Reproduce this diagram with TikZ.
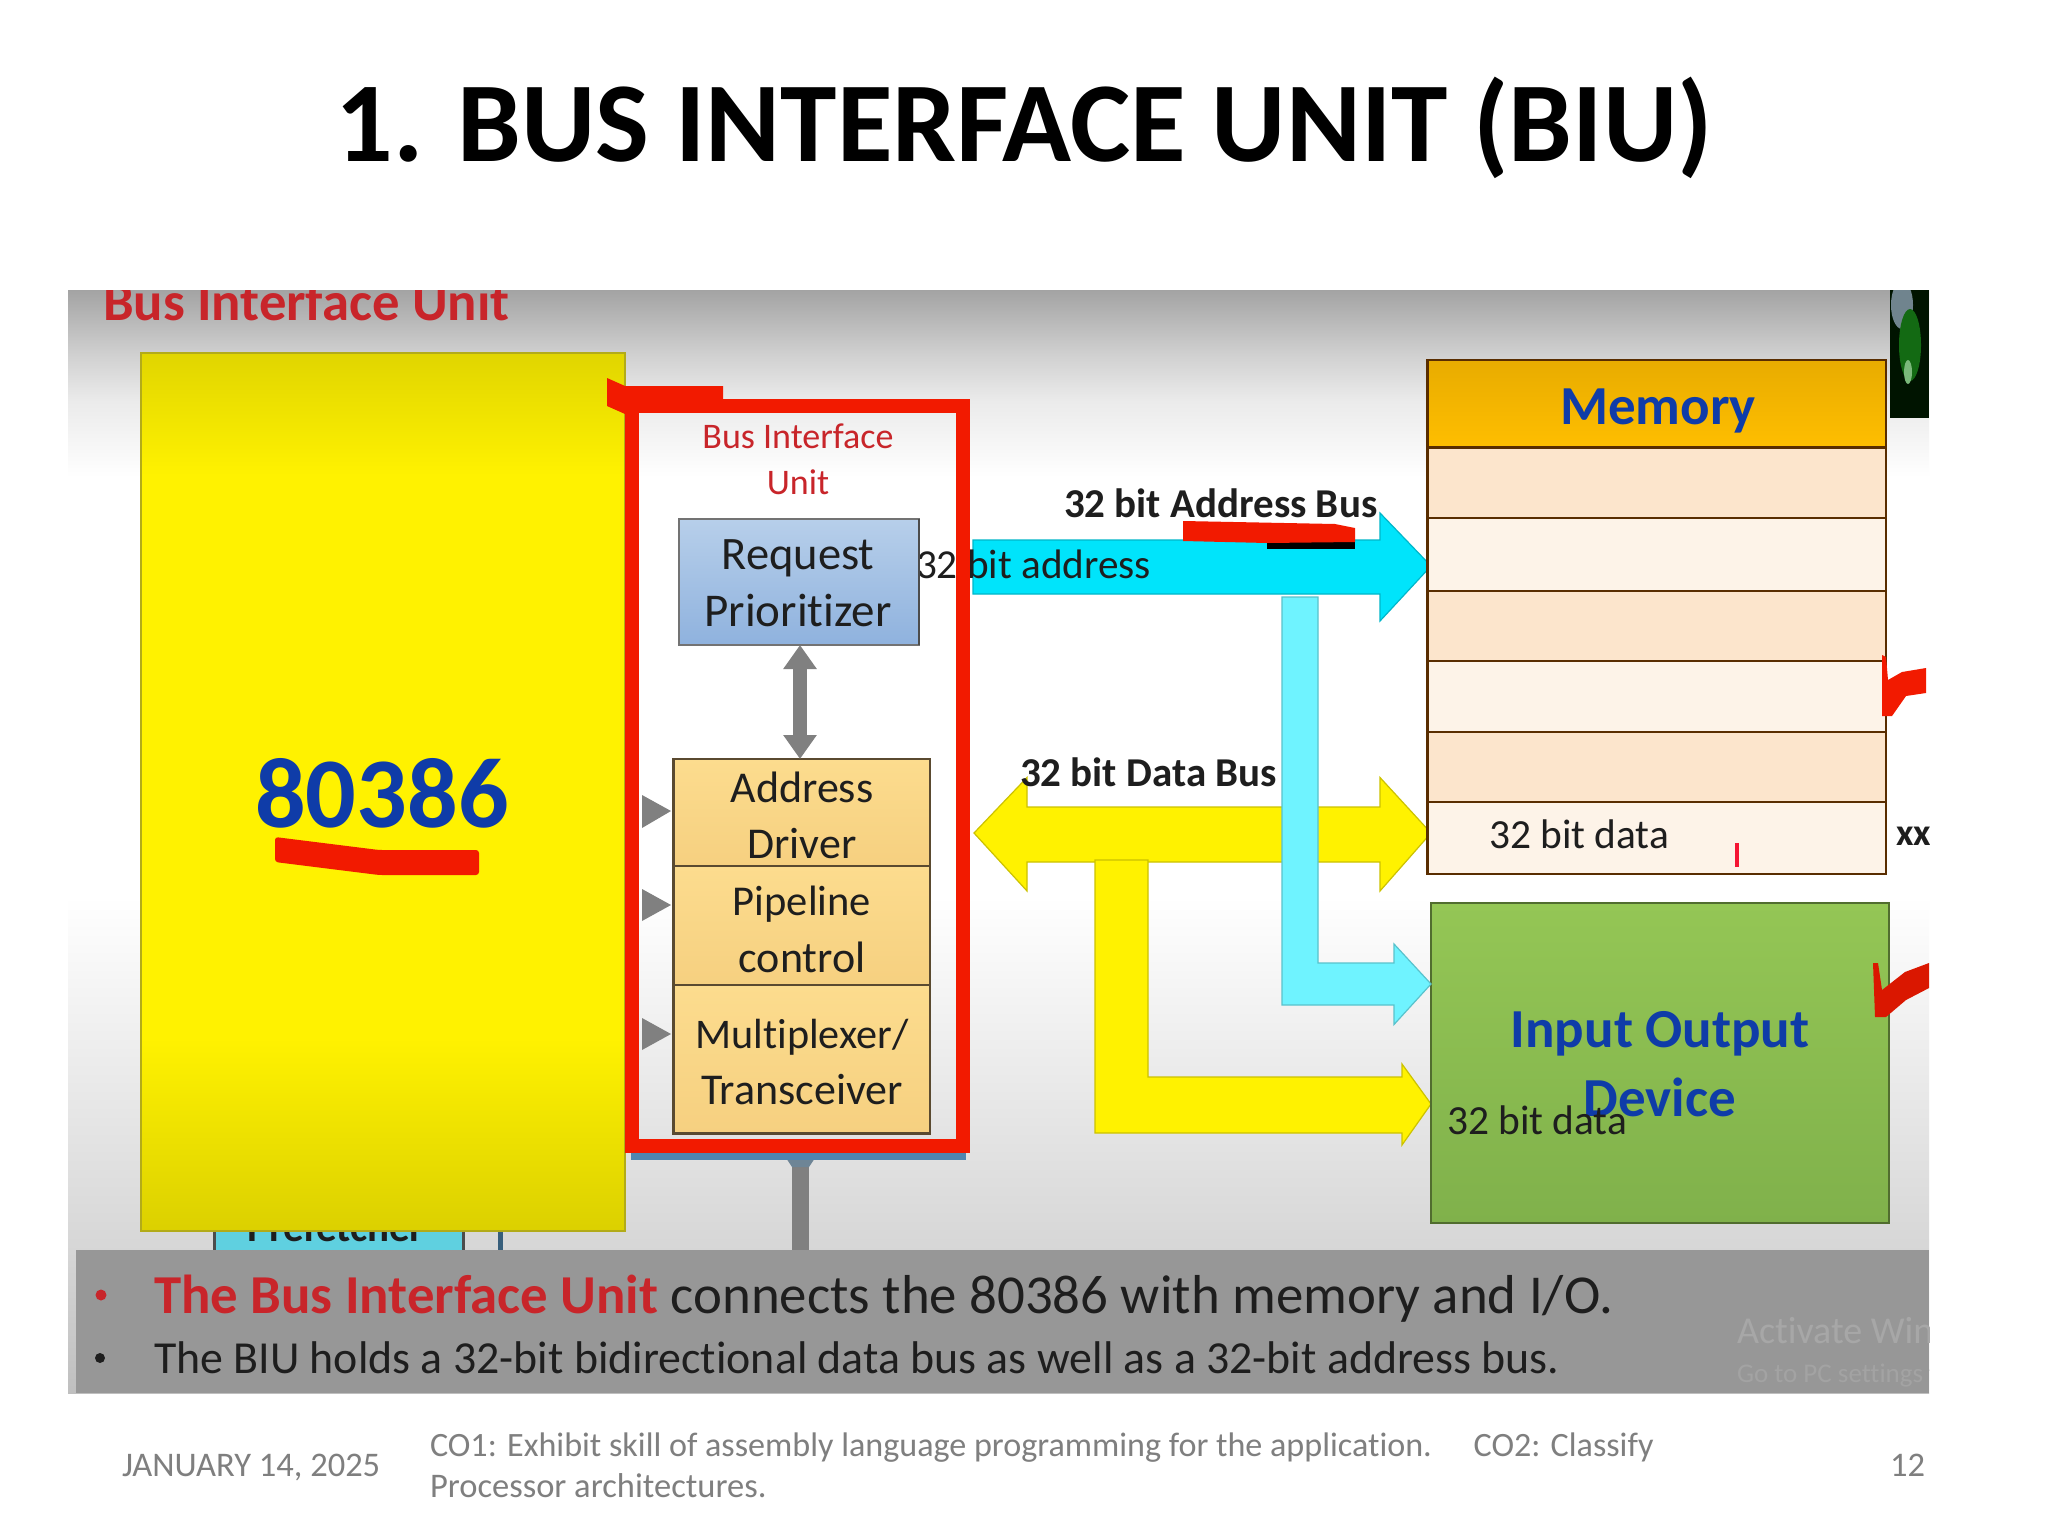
\documentclass[tikz,border=0pt]{standalone}
\usepackage{fontspec}
\setmainfont{Carlito}[Ligatures={TeX,NoCommon}]
\usetikzlibrary{arrows.meta}
\definecolor{foot}{HTML}{7F7F7F}
\definecolor{redm}{HTML}{F21A00}
\definecolor{redt}{HTML}{C8252A}
\definecolor{bluet}{HTML}{0F3CA8}
\definecolor{ink}{HTML}{1E1E1E}
\definecolor{band}{HTML}{979797}
\definecolor{cyana}{HTML}{00E4FB}
\definecolor{cyanb}{HTML}{6FF3FF}
\definecolor{yel}{HTML}{FFF200}
\definecolor{orantop}{HTML}{FCDC8E}
\definecolor{oranbot}{HTML}{F6D080}
\definecolor{edge}{HTML}{5A4A30}
\definecolor{rowa}{HTML}{FCE5CC}
\definecolor{rowb}{HTML}{FDF3E8}
\definecolor{memtop}{HTML}{E8AC00}
\definecolor{membot}{HTML}{FFBE00}
\definecolor{iotop}{HTML}{94C655}
\definecolor{iobot}{HTML}{80B14B}
\definecolor{rptop}{HTML}{B7CFEA}
\definecolor{rpbot}{HTML}{8FB2DE}
\definecolor{teal}{HTML}{5FD0E0}
\definecolor{steel}{HTML}{4F86B0}
% a path is fitted to the 25bp..75bp part of a shading; 75bp is its visual top
\pgfdeclareverticalshading{bgshade}{100bp}{
 color(0bp)=(black!25);color(25bp)=(black!25);color(31.5bp)=(black!16);color(47.5bp)=(white);
 color(66.5bp)=(white);color(70bp)=(black!8);color(72bp)=(black!18);color(75bp)=(black!36);color(100bp)=(black!36)}
\pgfdeclareverticalshading{yelshade}{100bp}{
 color(0bp)=(yel!86!black);color(25bp)=(yel!86!black);color(36bp)=(yel);color(68bp)=(yel);
 color(75bp)=(yel!88!black);color(100bp)=(yel!88!black)}
\newcommand{\fs}[1]{\fontsize{#1pt}{#1pt}\selectfont}
\tikzset{
 x=1pt,y=-1pt,
 txt/.style={inner sep=0pt,outer sep=0pt,anchor=base},
 txtw/.style={inner sep=0pt,outer sep=0pt,anchor=base west},
 block/.style={draw=#1!80!black,line width=1.2pt,fill=#1},
 memrow/.style={fill=#1,draw=black!65!orange,line width=2.5pt},
 drvbox/.style={top color=orantop,bottom color=oranbot,draw=edge,line width=2.5pt},
 greyarrow/.style={draw=none,fill=black!50},
}
\begin{document}
\begin{tikzpicture}
\useasboundingbox (0,0) rectangle (2048,1536);
\fill[white] (0,0) rectangle (2048,1536);
\node[txt,font=\bfseries\fs{113.8}] (title) at (1024,161) {1. BUS INTERFACE UNIT (BIU)};
\begin{scope}
\clip (68,290) rectangle (1929,1393);
\shade[shading=bgshade] (68,290) rectangle (1929,1393);
% clipped header
\node[txtw,font=\bfseries\fs{54.7},text=redt] (head) at (103,320) {Bus Interface Unit};
% corner picture
\begin{scope}
\clip (1890,290) rectangle (1929,418);
\fill[black!92!green] (1890,290) rectangle (1929,418);
\fill[black!50!cyan!45!gray] (1902,305) ellipse (11 and 24);
\fill[green!40!black!85!gray] (1910,345) ellipse (11 and 36);
\fill[green!30!gray!80] (1908,372) ellipse (4 and 12);
\end{scope}
% things behind the band
\fill[black!70] (213,1225) rectangle (465,1250);
\fill[teal] (216,1225) rectangle (462,1250);
\node[txt,font=\bfseries\fs{41},text=ink] (pref) at (336,1241) {Prefetcher};
\fill[steel!70!black] (498,1225) rectangle (503,1250);
\fill[black!50] (792,1155) rectangle (809,1250);
\fill[steel!60!black!70] (784,1155) -- (817,1155) -- (809,1167) -- (792,1167) -- cycle;
\fill[steel] (631,1150) rectangle (966,1160);
% 80386 block
\shade[shading=yelshade,draw=black!25!yel!80!gray,line width=1.5pt] (141,353) rectangle (625,1231);
\node[txt,font=\bfseries\fs{100},text=bluet] (chip) at (382,827) {80386};
\fill[redm,rounded corners=3pt] (275,837) -- (379,850) -- (479,850) -- (479,875) -- (379,875) -- (275,862) -- cycle;
% address arrow
\path[block=cyana] (973,540) -- (1380,540) -- (1380,513) -- (1431,566) -- (1380,621) -- (1380,594) -- (973,594) -- cycle;
\node[txtw,font=\fs{41.2},text=ink] (addrtxt) at (916,578.5) {32 bit address};
\node[txtw,font=\bfseries\fs{41},text=ink] (addrbus) at (1064,517) {32 bit Address Bus};
\fill[black] (1267,530) rectangle (1355,549);
\fill[redm] (1183,521) -- (1335,524) -- (1355,528) -- (1355,542) -- (1267,543) -- (1183,541) -- cycle;
% data bus arrow
\path[block=yel] (974,833) -- (1027,777.5) -- (1027,807) -- (1380,807) -- (1380,777.5) -- (1431,833) -- (1380,891) -- (1380,862) -- (1027,862) -- (1027,891) -- cycle;
\node[txtw,font=\bfseries\fs{41},text=ink] (databus) at (1020,786) {32 bit Data Bus};
% io yellow branch
\path[block=yel] (1095,860) -- (1148,860) -- (1148,1077) -- (1402,1077) -- (1402,1064) -- (1431,1104) -- (1402,1145) -- (1402,1133) -- (1095,1133) -- cycle;
% memory
\path[memrow=rowa] (1427.5,447.6) rectangle (1886,518);
\path[memrow=rowb] (1427.5,518) rectangle (1886,591);
\path[memrow=rowa] (1427.5,591) rectangle (1886,661);
\path[memrow=rowb] (1427.5,661) rectangle (1886,732);
\path[memrow=rowa] (1427.5,732) rectangle (1886,802);
\path[memrow=rowb] (1427.5,802) rectangle (1886,874);
\path[top color=memtop,bottom color=membot,draw=black!65!orange,line width=2.5pt] (1427.5,360) rectangle (1886,447.6);
\node[txt,font=\bfseries\fs{55},text=bluet] (mem) at (1658,424.5) {Memory};
\node[txtw,font=\fs{41.4},text=ink] (memdata) at (1489,848.5) {32 bit data};
\fill[redm!80!magenta] (1735,843) rectangle (1739,867);
\node[txtw,font=\bfseries\fs{38},text=ink] (xx) at (1896,845) {xx};
% io device
\path[top color=iotop,bottom color=iobot,draw=black!45!iotop,line width=1.5pt] (1431,903) rectangle (1889,1223);
% cyan branch on top of the yellow arrow
\path[block=cyanb] (1282,597) -- (1318,597) -- (1318,963) -- (1394,963) -- (1394,944) -- (1431,984) -- (1394,1024.5) -- (1394,1005) -- (1282,1005) -- cycle;
\node[txt,font=\bfseries\fs{55},text=bluet] (io1) at (1660,1047) {Input Output};
\node[txt,font=\bfseries\fs{55},text=bluet] (io2) at (1660,1116.5) {Device};
\node[txtw,font=\fs{41.4},text=ink] (iodata) at (1447,1134) {32 bit data};
% checks
\fill[redm] (1882,655) -- (1886,657) -- (1888,680) -- (1902,672) -- (1926,668) -- (1926,693) -- (1906,696) -- (1892,716) -- (1882,716) -- cycle;
\fill[redm!90!black] (1873,963) -- (1878,963) -- (1882,990) -- (1905,972) -- (1929,963) -- (1929,988) -- (1906,1000) -- (1886,1017) -- (1875,1017) -- cycle;
% band
\fill[band] (76,1250) rectangle (1929,1393);
\fill[redt] (101,1295) circle (5.5);
\fill[ink] (100,1358) circle (5);
\node[txtw,font=\fs{54.85},text=ink] (l1) at (154,1313) {\textcolor{redt}{\bfseries The Bus Interface Unit} connects the 80386 with memory and I/O.};
\node[txtw,font=\fs{45.85},text=ink] (l2) at (154,1373) {The BIU holds a 32-bit bidirectional data bus as well as a 32-bit address bus.};
\node[txtw,font=\fs{38},text=white!15!band] (act) at (1737,1343) {Activate Windows};
\node[txtw,font=\fs{27},text=white!12!band] (pc) at (1737,1382) {Go to PC settings to activate};
% BIU panel
\node[txt,font=\fs{36},text=redt] (biu1) at (798,448) {Bus Interface};
\node[txt,font=\fs{36},text=redt] (biu2) at (798,494) {Unit};
\node[inner sep=0pt,outer sep=0pt,minimum width=240pt,minimum height=126pt,top color=rptop,bottom color=rpbot,draw=black!55,line width=2pt] (rp) at (799,582) {};
\draw[black!70,line width=2pt] (rp.north east) -- (rp.south east);
\node[txt,font=\fs{46.5},text=ink] (rp1) at (798,569) {Request};
\node[txt,font=\fs{47},text=ink] (rp2) at (798,626) {Prioritizer};
\node[inner sep=0pt,outer sep=0pt,minimum width=256.5pt,minimum height=107pt,drvbox] (ad) at (801.75,812.5) {};
\node[inner sep=0pt,outer sep=0pt,minimum width=256.5pt,minimum height=119pt,drvbox] (pc2) at (801.75,925.5) {};
\node[inner sep=0pt,outer sep=0pt,minimum width=256.5pt,minimum height=148.5pt,drvbox] (mx) at (801.75,1059.25) {};
\draw[black!50,line width=14pt,{Triangle[width=32pt,length=24pt]}-{Triangle[width=32pt,length=24pt]}] (rp.south -| 800,0) -- (ad.north -| 800,0);
\node[txt,font=\fs{44},text=ink] (a1) at (802,802) {Address};
\node[txt,font=\fs{44},text=ink] (a2) at (802,858) {Driver};
\node[txt,font=\fs{42.5},text=ink] (b1) at (802,915.5) {Pipeline};
\node[txt,font=\fs{44},text=ink] (b2) at (802,972) {control};
\node[txt,font=\fs{42.2},text=ink] (c1) at (802,1048) {Multiplexer/};
\node[txt,font=\fs{44},text=ink] (c2) at (802,1104) {Transceiver};
\fill[greyarrow] (642,795) -- (671,811) -- (642,828) -- cycle;
\fill[greyarrow] (642,889) -- (671,905) -- (642,921) -- cycle;
\fill[greyarrow] (642,1018) -- (671,1034) -- (642,1050) -- cycle;
% red frame
\draw[redm,line width=14pt] (631.5,406) rectangle (962.5,1146);
\fill[redm] (607,378) -- (625,386) -- (723,386) -- (723,400) -- (625,414) -- (607,406) -- cycle;
\end{scope}
% footer
\node[txtw,font=\fs{34.5},text=foot] (date) at (122,1476) {JANUARY 14, 2025};
\node[txtw,font=\fs{34.1},text=foot] (co1) at (430,1456) {CO1: Exhibit skill of assembly language programming for the application.\hspace{1em}\ CO2: Classify};
\node[txtw,font=\fs{34.5},text=foot] (co2) at (430,1497) {Processor architectures.};
\node[txtw,font=\fs{34.5},text=foot] (page) at (1890,1476) {12};
\end{tikzpicture}
\end{document}
